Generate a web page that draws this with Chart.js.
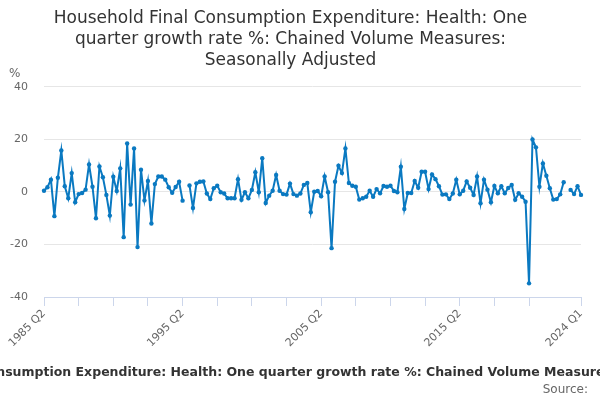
<!DOCTYPE html>
<html>
<head>
<meta charset="utf-8">
<title>Household Final Consumption Expenditure: Health</title>
<script src="https://cdn.jsdelivr.net/npm/chart.js@4.4.1/dist/chart.umd.min.js"></script>
<style>
  html, body { margin: 0; padding: 0; background: #fff; }
  #wrap { width: 600px; height: 400px; }
</style>
</head>
<body>
<div id="wrap"><canvas id="myChart" width="600" height="400"></canvas></div>
<script>
// quarterly growth rate %, 1985 Q2 .. 2024 Q1 (null = no value published)
const growth = [
  0.5, 1.8, 4.7, -9.2, 5.4, 15.8, 2.2, -2.4, 7.2, -3.9,
  -0.8, -0.4, 0.9, 10.5, 2.0, -10.0, 9.7, 5.6, -1.1, -9.0,
  5.8, 0.4, 9.0, -17.2, 18.5, -4.8, 16.6, -21.0, 8.5, -3.2,
  4.2, -12.0, 3.0, 5.9, 5.9, 4.7, 1.8, -0.3, 1.9, 3.9,
  -3.3, null, 2.5, -6.1, 3.3, 3.9, 4.0, -0.6, -2.7, 1.4,
  2.4, -0.1, -0.6, -2.4, -2.4, -2.4, 4.9, -3.0, -0.1, -2.4,
  0.8, 7.5, -0.1, 12.9, -4.2, -1.4, 0.5, 6.5, 0.5, -0.8,
  -1.0, 3.2, -0.8, -1.4, -0.6, 2.7, 3.4, -7.7, 0.1, 0.4,
  -1.6, 5.9, -0.1, -21.4, 3.9, 10.0, 7.2, 16.6, 3.4, 2.4,
  2.0, -2.9, -2.4, -1.8, 0.5, -1.8, 1.1, -0.5, 2.3, 2.0,
  2.4, 0.4, -0.1, 9.6, -6.5, -0.4, -0.4, 4.2, 1.6, 7.7,
  7.7, 1.1, 6.7, 4.9, 2.2, -1.0, -0.9, -2.7, -0.6, 4.7,
  -0.9, 0.5, 4.0, 1.6, -1.1, 5.9, -4.3, 4.7, 0.9, -3.9,
  2.3, -0.5, 2.2, -0.5, 1.5, 2.7, -3.0, -0.5, -1.8, -3.7,
  -34.8, 20.0, 17.0, 2.0, 10.9, 6.2, 1.4, -2.9, -2.7, -0.9,
  3.7, null, 0.8, -0.8, 2.2, -1.1
];

// category labels: one per quarter starting 1985 Q2
const quarters = [];
let yr = 1985, qt = 2;
for (let i = 0; i < growth.length; i++) {
  quarters.push(yr + ' Q' + qt);
  qt++;
  if (qt > 4) { qt = 1; yr++; }
}

const shownLabels = ['1985 Q2', '1995 Q2', '2005 Q2', '2015 Q2', '2024 Q1'];
const yTicks = [-40, -20, 0, 20, 40];

const titleLines = [
  'Household Final Consumption Expenditure: Health: One',
  'quarter growth rate %: Chained Volume Measures:',
  'Seasonally Adjusted'
];
const axisTitle = 'Household Final Consumption Expenditure: Health: One quarter growth rate %: Chained Volume Measures: Seasonally Adjusted';
const unitLabel = '%';
const sourceLabel = 'Source:';

const FONT = '"DejaVu Sans", sans-serif';

// draws the unit, the x axis title and the source line
const extraText = {
  id: 'extraText',
  afterDraw(chart) {
    const ctx = chart.ctx;
    const area = chart.chartArea;
    ctx.save();
    ctx.fillStyle = '#666666';
    ctx.font = '12px ' + FONT;
    ctx.textBaseline = 'middle';
    ctx.textAlign = 'left';
    ctx.fillText(unitLabel, 9, 74);

    // axis title is centred on the plot area, not the canvas
    ctx.fillStyle = '#333333';
    ctx.font = 'bold 12.5px ' + FONT;
    ctx.textAlign = 'center';
    ctx.fillText(axisTitle, (area.left + area.right) / 2, 373);

    ctx.fillStyle = '#666666';
    ctx.font = '12px ' + FONT;
    ctx.textAlign = 'right';
    ctx.fillText(sourceLabel, 588, 390);
    ctx.restore();
  }
};

const ctx = document.getElementById('myChart').getContext('2d');
const myChart = new Chart(ctx, {
  type: 'line',
  data: {
    labels: quarters,
    datasets: [{
      label: 'Growth rate %',
      data: growth,
      borderColor: '#0a79c1',
      backgroundColor: '#0a79c1',
      borderWidth: 2,
      pointRadius: 2.2,
      pointBorderWidth: 0,
      tension: 0,
      spanGaps: false
    }]
  },
  options: {
    responsive: false,
    animation: false,
    devicePixelRatio: 1,
    layout: { padding: { left: 0, right: 19, top: 0, bottom: 0 } },
    plugins: {
      legend: { display: false },
      tooltip: { enabled: false },
      title: {
        display: true,
        text: titleLines,
        color: '#333333',
        font: { family: FONT, size: 17, weight: 'normal', lineHeight: 1.235 },
        padding: { top: 8, bottom: 16 }
      }
    },
    scales: {
      x: {
        type: 'category',
        offset: false,
        afterFit(scale) { scale.height = 103; },
        border: { display: true, color: '#ccd6eb', width: 1 },
        grid: {
          drawOnChartArea: false,
          drawTicks: true,
          tickLength: 9,
          tickColor(c) {
            const i = c.index;
            return ((i % 10 === 0 && i <= 140) || i === quarters.length - 1) ? '#ccd6eb' : 'rgba(0,0,0,0)';
          }
        },
        ticks: {
          autoSkip: false,
          maxRotation: 45,
          minRotation: 45,
          padding: 1,
          color: '#666666',
          font: { family: FONT, size: 11 },
          callback(val, i) {
            const lab = quarters[i];
            return shownLabels.includes(lab) ? lab : '';
          }
        }
      },
      y: {
        min: -40,
        max: 40,
        afterFit(scale) { scale.width = 44; },
        afterBuildTicks(scale) { scale.ticks = yTicks.map(v => ({ value: v })); },
        border: { display: false },
        grid: { color: '#e6e6e6', drawTicks: false, lineWidth: 1 },
        ticks: {
          padding: 16,
          color: '#666666',
          font: { family: FONT, size: 11 }
        }
      }
    }
  },
  plugins: [extraText]
});
</script>
</body>
</html>
